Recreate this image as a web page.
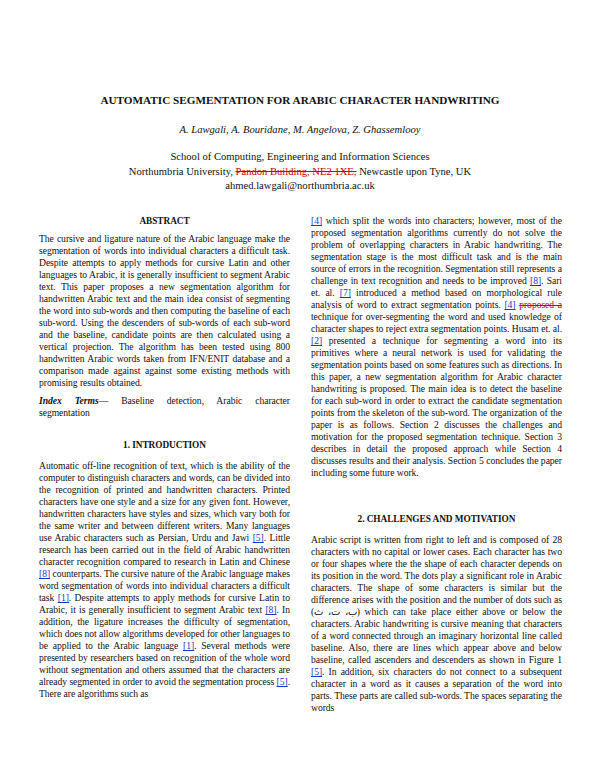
<!DOCTYPE html>
<html>
<head>
<meta charset="utf-8">
<script src="https://cdn.jsdelivr.net/npm/chart.js@4"></script>
<style>
  body { margin: 0; background: #fff; width: 600px; height: 776px; overflow: hidden; position: relative;
         font-family: "Liberation Serif", "DejaVu Serif", serif; color: #111; }
  .abs { position: absolute; }
  .center { left: 0; width: 600px; text-align: center; }
  .col { width: 251px; font-size: 9.65px; line-height: 12px; text-align: justify; hyphens: auto; letter-spacing: -0.05px; }
  h3 { font-size: 9.3px; font-weight: bold; text-align: center; margin: 0; }
  p { margin: 0; }
  .r { color: #1a3bbf; text-decoration: underline; }
  .del { color: #c00; text-decoration: line-through; }
</style>
</head>
<body>
<div class="abs center" style="top:94px;font-weight:bold;font-size:11.2px;">AUTOMATIC SEGMENTATION FOR ARABIC CHARACTER HANDWRITING</div>
<div class="abs center" style="top:124px;font-style:italic;font-size:10.6px;">A. Lawgali, A. Bouridane, M. Angelova, Z. Ghassemlooy</div>
<div class="abs center" style="top:150px;font-size:10.6px;line-height:14.5px;">
School of Computing, Engineering and Information Sciences<br>
Northumbria University, <span class="del">Pandon Building, NE2 1XE,</span> Newcastle upon Tyne, UK<br>
ahmed.lawgali@northumbria.ac.uk</div>

<div class="abs col" style="left:39px;top:215px;">
<h3>ABSTRACT</h3>
<p style="margin-top:6px;">The cursive and ligature nature of the Arabic language make the segmentation of words into individual characters a difficult task. Despite attempts to apply methods for cursive Latin and other languages to Arabic, it is generally insufficient to segment Arabic text. This paper proposes a new segmentation algorithm for handwritten Arabic text and the main idea consist of segmenting the word into sub-words and then computing the baseline of each sub-word. Using the descenders of sub-words of each sub-word and the baseline, candidate points are then calculated using a vertical projection. The algorithm has been tested using 800 handwritten Arabic words taken from IFN/ENIT database and a comparison made against against some existing methods with promising results obtained.</p>
<p style="margin-top:6px;"><b><i>Index Terms</i>—</b> Baseline detection, Arabic character segmentation</p>
<h3 style="margin-top:20px;">1. INTRODUCTION</h3>
<p style="margin-top:9px;">Automatic off-line recognition of text, which is the ability of the computer to distinguish characters and words, can be divided into the recognition of printed and handwritten characters. Printed characters have one style and a size for any given font. However, handwritten characters have styles and sizes, which vary both for the same writer and between different writers. Many languages use Arabic characters such as Persian, Urdu and Jawi <span class="r">[5]</span>. Little research has been carried out in the field of Arabic handwritten character recognition compared to research in Latin and Chinese <span class="r">[8]</span> counterparts. The cursive nature of the Arabic language makes word segmentation of words into individual characters a difficult task <span class="r">[1]</span>. Despite attempts to apply methods for cursive Latin to Arabic, it is generally insufficient to segment Arabic text <span class="r">[8]</span>. In addition, the ligature increases the difficulty of segmentation, which does not allow algorithms developed for other languages to be applied to the Arabic language <span class="r">[1]</span>. Several methods were presented by researchers based on recognition of the whole word without segmentation and others assumed that the characters are already segmented in order to avoid the segmentation process <span class="r">[5]</span>. There are algorithms such as</p>
</div>

<div class="abs col" style="left:311px;top:215px;">
<p><span class="r">[4]</span> which split the words into characters; however, most of the proposed segmentation algorithms currently do not solve the problem of overlapping characters in Arabic handwriting. The segmentation stage is the most difficult task and is the main source of errors in the recognition. Segmentation still represents a challenge in text recognition and needs to be improved <span class="r">[8]</span>. Sari et. al. <span class="r">[7]</span> introduced a method based on morphological rule analysis of word to extract segmentation points. <span class="r">[4]</span> <span class="del">proposed a</span> technique for over-segmenting the word and used knowledge of character shapes to reject extra segmentation points. Husam et. al. <span class="r">[2]</span> presented a technique for segmenting a word into its primitives where a neural network is used for validating the segmentation points based on some features such as directions. In this paper, a new segmentation algorithm for Arabic character handwriting is proposed. The main idea is to detect the baseline for each sub-word in order to extract the candidate segmentation points from the skeleton of the sub-word. The organization of the paper is as follows. Section 2 discusses the challenges and motivation for the proposed segmentation technique. Section 3 describes in detail the proposed approach while Section 4 discusses results and their analysis. Section 5 concludes the paper including some future work.</p>
<h3 style="margin-top:34px;">2. CHALLENGES AND MOTIVATION</h3>
<p style="margin-top:9px;">Arabic script is written from right to left and is composed of 28 characters with no capital or lower cases. Each character has two or four shapes where the the shape of each character depends on its position in the word. The dots play a significant role in Arabic characters. The shape of some characters is similar but the difference arises with the position and the number of dots such as (<span dir="rtl">ب، ت، ث</span>) which can take place either above or below the characters. Arabic handwriting is cursive meaning that characters of a word connected through an imaginary horizontal line called baseline. Also, there are lines which appear above and below baseline, called ascenders and descenders as shown in Figure 1 <span class="r">[5]</span>. In addition, six characters do not connect to a subsequent character in a word as it causes a separation of the word into parts. These parts are called sub-words. The spaces separating the words</p>
</div>
</body>
</html>
